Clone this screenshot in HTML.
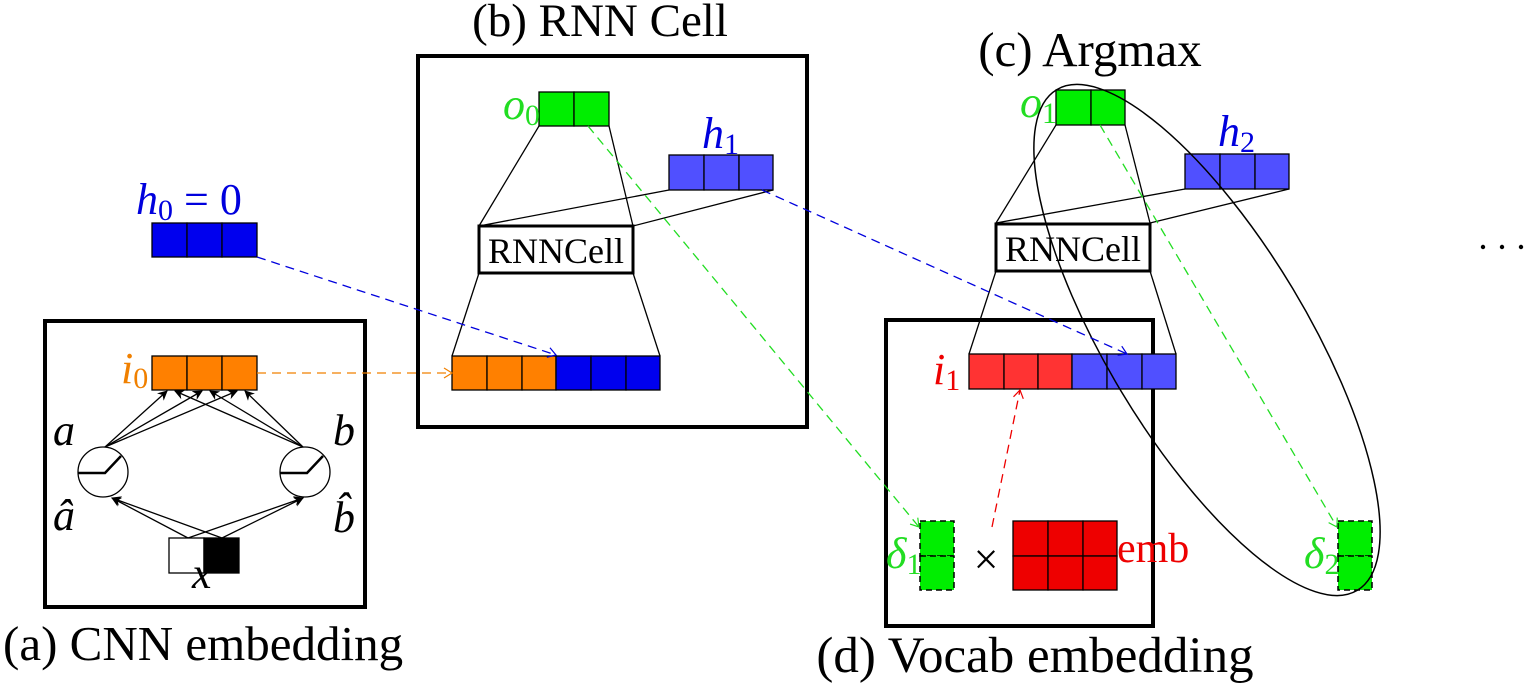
<!DOCTYPE html>
<html><head><meta charset="utf-8"><style>
html,body{margin:0;padding:0;background:#fff;}
svg{display:block;}
text{font-family:"Liberation Serif",serif;}
</style></head><body>
<svg width="1529" height="685" viewBox="0 0 1529 685" xmlns="http://www.w3.org/2000/svg">
<defs>
<marker id="ab" markerWidth="10" markerHeight="10" refX="9" refY="5" orient="auto" markerUnits="userSpaceOnUse"><path d="M0,0 L10,5 L0,10 L3,5 z" fill="#000"/></marker>
<marker id="ao" markerWidth="12" markerHeight="12" refX="10" refY="6" orient="auto" markerUnits="userSpaceOnUse"><path d="M2,1 L10,6 L2,11" fill="none" stroke="#f08000" stroke-width="1.2"/></marker>
<marker id="abl" markerWidth="12" markerHeight="12" refX="10" refY="6" orient="auto" markerUnits="userSpaceOnUse"><path d="M2,1 L10,6 L2,11" fill="none" stroke="#0000dd" stroke-width="1.2"/></marker>
<marker id="ag" markerWidth="12" markerHeight="12" refX="10" refY="6" orient="auto" markerUnits="userSpaceOnUse"><path d="M2,1 L10,6 L2,11" fill="none" stroke="#22dd22" stroke-width="1.2"/></marker>
<marker id="ar" markerWidth="12" markerHeight="12" refX="10" refY="6" orient="auto" markerUnits="userSpaceOnUse"><path d="M2,1 L10,6 L2,11" fill="none" stroke="#ee0000" stroke-width="1.2"/></marker>
</defs>

<!-- (a) box -->
<rect x="45" y="321" width="320" height="286" fill="none" stroke="#000" stroke-width="4"/>
<g stroke="#000" stroke-width="1.3">
<rect x="152" y="356" width="35" height="34" fill="#ff8000"/>
<rect x="187" y="356" width="35" height="34" fill="#ff8000"/>
<rect x="222" y="356" width="35" height="34" fill="#ff8000"/>
<rect x="169" y="538" width="35" height="35" fill="#fff"/>
<rect x="204" y="538" width="35" height="35" fill="#000"/>
<circle cx="103" cy="472" r="25" fill="#fff"/>
<circle cx="305" cy="472" r="25" fill="#fff"/>
</g>
<g stroke="#000" stroke-width="2.5" fill="none">
<path d="M78,473 H105 L121,456"/>
<path d="M280,473 H307 L323,456"/>
</g>
<g stroke="#000" stroke-width="1.3" marker-end="url(#ab)">
<line x1="105" y1="447" x2="167" y2="391"/>
<line x1="105" y1="447" x2="202" y2="391"/>
<line x1="105" y1="447" x2="237" y2="391"/>
<line x1="303" y1="447" x2="175" y2="391"/>
<line x1="303" y1="447" x2="210" y2="391"/>
<line x1="303" y1="447" x2="245" y2="391"/>
<line x1="188" y1="538" x2="112" y2="498"/>
<line x1="222" y1="538" x2="112" y2="498"/>
<line x1="188" y1="538" x2="303" y2="498"/>
<line x1="222" y1="538" x2="303" y2="498"/>
</g>
<text x="121" y="383" font-size="44" font-style="italic" fill="#f08000">i<tspan font-size="30" font-style="normal" dy="5">0</tspan></text>
<text x="53" y="445" font-size="44" font-style="italic">a</text>
<text x="53" y="530" font-size="44" font-style="italic">â</text>
<text x="333" y="445" font-size="44" font-style="italic">b</text>
<text x="333" y="532" font-size="44" font-style="italic">b̂</text>
<text x="192" y="588" font-size="44" font-style="italic">x</text>
<text x="3" y="660" font-size="49">(a) CNN embedding</text>

<!-- h0 -->
<g stroke="#000" stroke-width="1.3" fill="#0000ee">
<rect x="152" y="223" width="35" height="34"/><rect x="187" y="223" width="35" height="34"/><rect x="222" y="223" width="35" height="34"/>
</g>
<text x="136" y="214" font-size="44" fill="#0000dd"><tspan font-style="italic">h</tspan><tspan font-size="30" dy="6">0</tspan><tspan dy="-6"> = 0</tspan></text>

<!-- (b) box -->
<rect x="418" y="56" width="389" height="371" fill="none" stroke="#000" stroke-width="4"/>
<text x="600" y="36" font-size="47" text-anchor="middle">(b) RNN Cell</text>
<g stroke="#000" stroke-width="1.3">
<rect x="539" y="92" width="35" height="34" fill="#00ee00"/><rect x="574" y="92" width="35" height="34" fill="#00ee00"/>
<rect x="669" y="155" width="35" height="35" fill="#5050ff"/><rect x="704" y="155" width="35" height="35" fill="#5050ff"/><rect x="739" y="155" width="34" height="35" fill="#5050ff"/>
<rect x="452" y="356" width="35" height="34" fill="#ff8000"/><rect x="487" y="356" width="35" height="34" fill="#ff8000"/><rect x="522" y="356" width="34" height="34" fill="#ff8000"/>
<rect x="556" y="356" width="35" height="34" fill="#0000ee"/><rect x="591" y="356" width="35" height="34" fill="#0000ee"/><rect x="626" y="356" width="34" height="34" fill="#0000ee"/>
<line x1="539" y1="126" x2="479" y2="226"/><line x1="609" y1="126" x2="633" y2="226"/>
<line x1="669" y1="190" x2="479" y2="226"/><line x1="773" y1="190" x2="633" y2="226"/>
<line x1="479" y1="273" x2="452" y2="356"/><line x1="633" y1="273" x2="660" y2="356"/>
</g>
<rect x="479" y="226" width="154" height="47" fill="#fff" stroke="#000" stroke-width="3"/>
<text x="556" y="263" font-size="36" text-anchor="middle">RNNCell</text>
<text x="503" y="119" font-size="44" font-style="italic" fill="#22dd22">o<tspan font-size="30" font-style="normal" dy="6">0</tspan></text>
<text x="702" y="148" font-size="44" font-style="italic" fill="#0000dd">h<tspan font-size="30" font-style="normal" dy="6">1</tspan></text>

<!-- (c) -->
<text x="1090" y="66" font-size="49" text-anchor="middle">(c) Argmax</text>
<g stroke="#000" stroke-width="1.3">
<rect x="1056" y="90" width="35" height="35" fill="#00ee00"/><rect x="1091" y="90" width="34" height="35" fill="#00ee00"/>
<rect x="1185" y="154" width="35" height="35" fill="#5050ff"/><rect x="1220" y="154" width="35" height="35" fill="#5050ff"/><rect x="1255" y="154" width="34" height="35" fill="#5050ff"/>
<line x1="1056" y1="125" x2="996" y2="223"/><line x1="1125" y1="125" x2="1150" y2="223"/>
<line x1="1185" y1="189" x2="996" y2="223"/><line x1="1289" y1="189" x2="1150" y2="223"/>
<line x1="996" y1="271" x2="969" y2="354"/><line x1="1150" y1="271" x2="1176" y2="354"/>
</g>
<rect x="996" y="224" width="154" height="47" fill="#fff" stroke="#000" stroke-width="3"/>
<text x="1073" y="261" font-size="36" text-anchor="middle">RNNCell</text>
<text x="1020" y="117" font-size="44" font-style="italic" fill="#22dd22">o<tspan font-size="30" font-style="normal" dy="6">1</tspan></text>
<text x="1218" y="146" font-size="44" font-style="italic" fill="#0000dd">h<tspan font-size="30" font-style="normal" dy="6">2</tspan></text>

<!-- (d) box -->
<rect x="886" y="320" width="267" height="306" fill="none" stroke="#000" stroke-width="4"/>
<g stroke="#000" stroke-width="1.3">
<rect x="969" y="354" width="35" height="35" fill="#ff3333"/><rect x="1004" y="354" width="34" height="35" fill="#ff3333"/><rect x="1038" y="354" width="34" height="35" fill="#ff3333"/>
<rect x="1072" y="354" width="35" height="35" fill="#5050ff"/><rect x="1107" y="354" width="35" height="35" fill="#5050ff"/><rect x="1142" y="354" width="34" height="35" fill="#5050ff"/>
<rect x="1013" y="521" width="35" height="35" fill="#ee0000"/><rect x="1048" y="521" width="35" height="35" fill="#ee0000"/><rect x="1083" y="521" width="34" height="35" fill="#ee0000"/>
<rect x="1013" y="556" width="35" height="34" fill="#ee0000"/><rect x="1048" y="556" width="35" height="34" fill="#ee0000"/><rect x="1083" y="556" width="34" height="34" fill="#ee0000"/>
</g>
<g stroke="#000" stroke-width="1.5" stroke-dasharray="6,4" fill="#00ee00">
<rect x="920" y="521" width="34" height="35"/><rect x="920" y="556" width="34" height="34"/>
<rect x="1338" y="521" width="34" height="35"/><rect x="1338" y="556" width="34" height="34"/>
</g>
<text x="933" y="384" font-size="44" font-style="italic" fill="#ee0000">i<tspan font-size="30" font-style="normal" dy="6">1</tspan></text>
<text x="986" y="574" font-size="44" text-anchor="middle">×</text>
<text x="1117" y="562" font-size="42" fill="#ee0000">emb</text>
<text x="886" y="568" font-size="44" font-style="italic" fill="#22dd22">δ<tspan font-size="30" font-style="normal" dy="6">1</tspan></text>
<text x="1304" y="568" font-size="44" font-style="italic" fill="#22dd22">δ<tspan font-size="30" font-style="normal" dy="6">2</tspan></text>
<text x="1035" y="672" font-size="51" text-anchor="middle">(d) Vocab embedding</text>

<!-- ellipse -->
<ellipse cx="1207" cy="340" rx="292" ry="100" transform="rotate(59 1207 340)" fill="none" stroke="#000" stroke-width="1.5"/>

<!-- dashed connectors -->
<g fill="none" stroke-width="1.3" stroke-dasharray="9,6">
<line x1="257" y1="373" x2="452" y2="373" stroke="#f08000" marker-end="url(#ao)"/>
<line x1="257" y1="257" x2="556" y2="355" stroke="#0000dd" marker-end="url(#abl)"/>
<line x1="762" y1="190" x2="1127" y2="354" stroke="#0000dd" marker-end="url(#abl)"/>
<line x1="588" y1="126" x2="919" y2="527" stroke="#22dd22" marker-end="url(#ag)"/>
<line x1="1100" y1="125" x2="1337" y2="527" stroke="#22dd22" marker-end="url(#ag)"/>
<line x1="992" y1="527" x2="1020" y2="390" stroke="#ee0000" marker-end="url(#ar)"/>
</g>

<g fill="#000"><circle cx="1483" cy="247" r="2.2"/><circle cx="1502" cy="247" r="2.2"/><circle cx="1521" cy="247" r="2.2"/></g>
</svg>
</body></html>
